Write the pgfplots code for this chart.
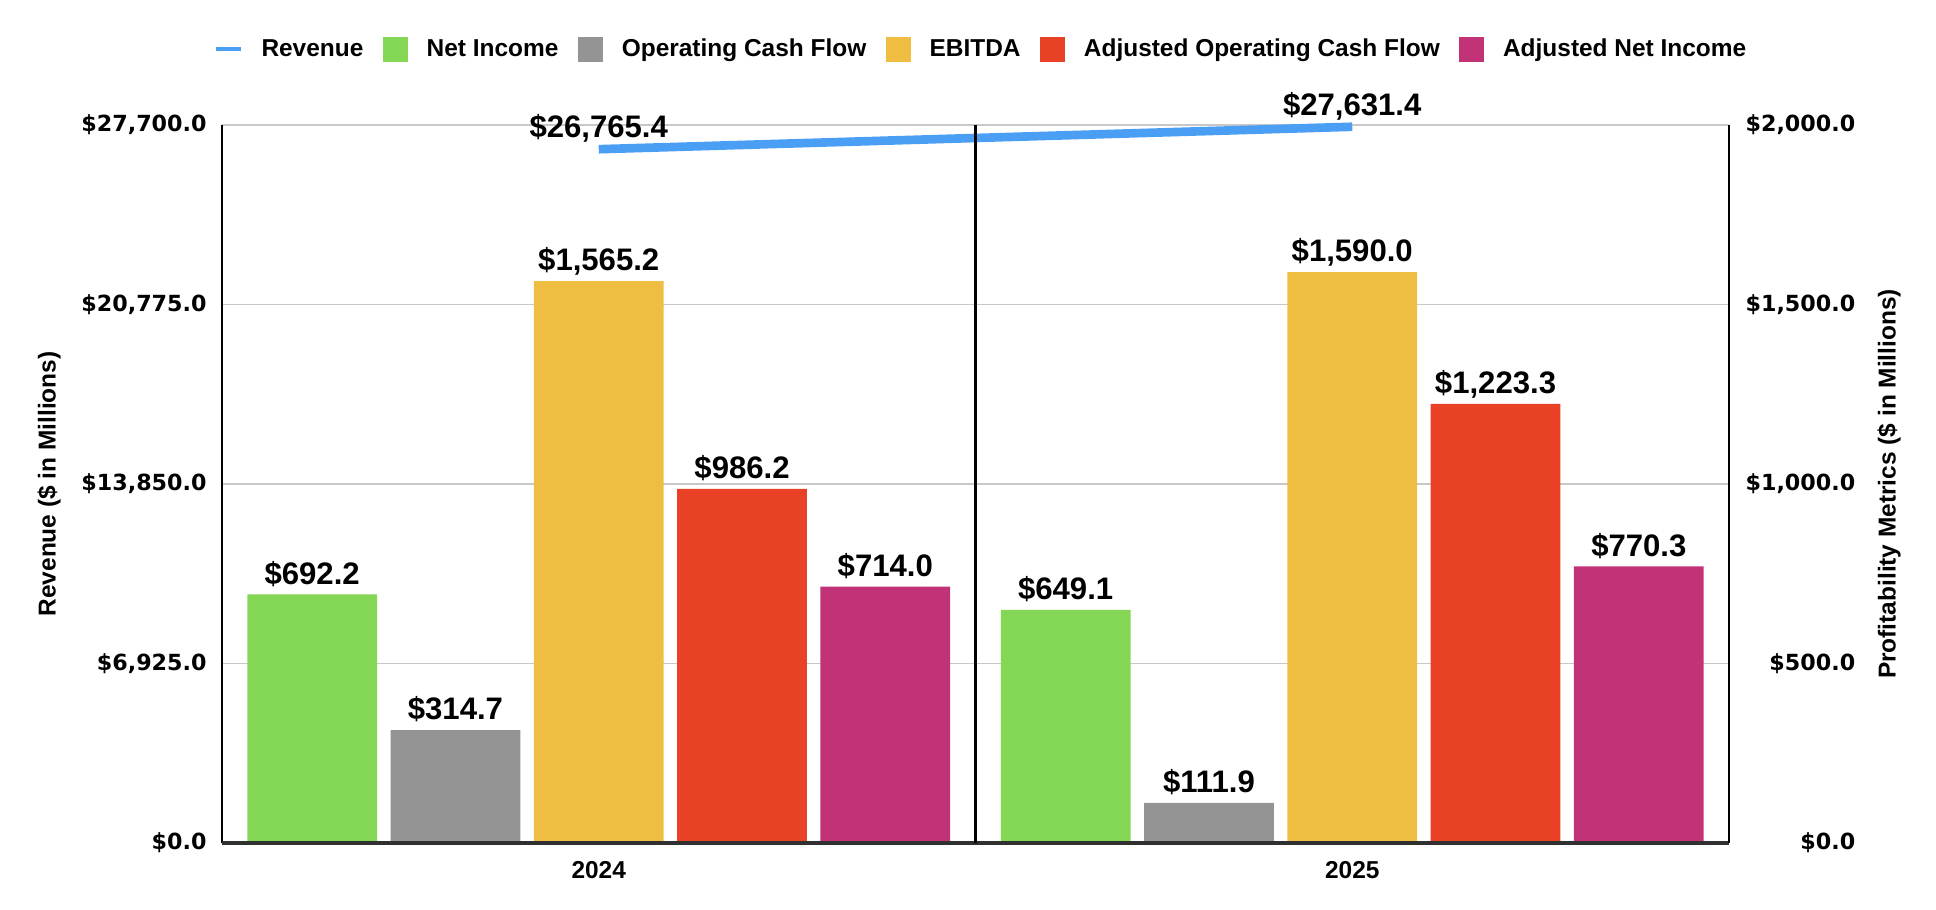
\documentclass[border=0pt]{standalone}
\usepackage{pgfplots}
\usepackage{pgfplotstable}
\pgfplotsset{compat=1.18}
\usepackage{fontspec}
\setmainfont{Liberation Sans}
\newfontfamily\tickfont{DejaVu Sans}

\definecolor{revblue}{HTML}{4A9FF5}
\definecolor{nigreen}{HTML}{84D655}
\definecolor{ocfgray}{HTML}{949494}
\definecolor{ebitdayellow}{HTML}{EFBD42}
\definecolor{aocfred}{HTML}{E94125}
\definecolor{animagenta}{HTML}{C23277}
\definecolor{gridgray}{HTML}{C8C8C8}
\definecolor{axisdark}{HTML}{303030}

% profitability metrics ($ in millions), years at x = 0 and 1
\pgfplotstableread{
x ni ocf ebitda aocf ani
0 692.2 314.7 1565.2 986.2 714.0
1 649.1 111.9 1590.0 1223.3 770.3
}\metrics

% revenue ($ in millions)
\pgfplotstableread{
x rev
0 26765.4
1 27631.4
}\revenue

\tikzset{
  vallabel/.style={font=\bfseries\fontsize{14}{16}\selectfont, anchor=base, inner sep=0pt, text=black},
  ticklab/.style={font=\tickfont\bfseries\fontsize{10}{12}\selectfont, inner sep=0pt},
}

\pgfplotsset{
  common/.style={
    at={(99.9pt,30.15pt)}, anchor=south west,
    scale only axis, width=678.15pt, height=323.1pt,
    xmin=-0.5, xmax=1.5,
    major tick length=0pt,
    scaled y ticks=false,
    /pgf/number format/assume math mode=true,
    clip=false,
  },
  sqlegend/.style={legend image code/.code={\fill[##1] (0pt,-5.625pt) rectangle (11.25pt,5.625pt);}},
  linelegend/.style={legend image code/.code={\draw[##1] (0pt,0pt) -- (11.25pt,0pt);}},
  dollarlabel/.style={nodes near coords={\$\pgfmathprintnumber[fixed,fixed zerofill,precision=1,1000 sep={,}]{\pgfplotspointmeta}}},
}

\begin{document}
\begin{tikzpicture}
\path[use as bounding box] (0,0) rectangle (871.2pt,409.5pt);

% left axis: revenue line and the horizontal grid
\begin{axis}[common,
  ymin=0, ymax=27700,
  axis x line=none, axis y line*=left,
  y axis line style={black, line width=1.3pt},
  ytick={0,6925,13850,20775,27700},
  yticklabels={{\$0.0},{\$6,925.0},{\$13,850.0},{\$20,775.0},{\$27,700.0}},
  yticklabel style={ticklab, anchor=east, xshift=-6.75pt},
  ymajorgrids, major grid style={gridgray, line width=0.6pt},
  every axis y label/.style={at={(axis description cs:-0.1148,0.5)}, anchor=center, rotate=90, font=\bfseries\fontsize{11}{13}\selectfont},
  ylabel={Revenue (\$ in Millions)},
]
\addplot[revblue, line width=3.9pt, dollarlabel, nodes near coords style={vallabel, yshift=5.2pt}]
  table[x=x, y=rev]{\revenue};
\end{axis}

% right axis: profitability bars
\begin{axis}[common,
  ymin=0, ymax=2000,
  axis x line*=bottom, axis y line*=right,
  axis on top,
  x axis line style={axisdark, line width=1.4pt},
  y axis line style={black, line width=1.3pt},
  xtick={0,1}, xticklabels={2024,2025},
  xticklabel style={font=\bfseries\fontsize{11}{13}\selectfont, anchor=north, inner sep=0pt, yshift=-8pt},
  extra x ticks={0.5}, extra x tick labels={},
  extra x tick style={grid=major, major grid style={black, line width=1.2pt}},
  ytick={0,500,1000,1500,2000},
  yticklabels={{\$0.0},{\$500.0},{\$1,000.0},{\$1,500.0},{\$2,000.0}},
  yticklabel style={ticklab, anchor=east, xshift=57pt},
  every axis y label/.style={at={(axis description cs:1.1062,0.5)}, anchor=center, rotate=90, font=\bfseries\fontsize{11}{13}\selectfont},
  ylabel={Profitability Metrics (\$ in Millions)},
  ybar, bar width=0.17213,
  dollarlabel,
  nodes near coords style={vallabel, yshift=4.7pt},
  legend columns=6,
  legend style={at={(0.503,1.1053)}, anchor=center, draw=none, fill=none,
    font=\bfseries\fontsize{11}{13}\selectfont,
    nodes={inner sep=0pt},
    /tikz/every odd column/.append style={column sep=8.4pt},
    /tikz/every even column/.append style={column sep=8.85pt}},
]
\addlegendimage{revblue, line width=1.8pt, linelegend}
\addlegendentry{Revenue}
\addplot[fill=nigreen, draw=none, bar shift=-0.38032, sqlegend] table[x=x, y=ni]{\metrics};
\addlegendentry{Net Income}
\addplot[fill=ocfgray, draw=none, bar shift=-0.19016, sqlegend] table[x=x, y=ocf]{\metrics};
\addlegendentry{Operating Cash Flow}
\addplot[fill=ebitdayellow, draw=none, bar shift=0, sqlegend] table[x=x, y=ebitda]{\metrics};
\addlegendentry{EBITDA}
\addplot[fill=aocfred, draw=none, bar shift=0.19016, sqlegend] table[x=x, y=aocf]{\metrics};
\addlegendentry{Adjusted Operating Cash Flow}
\addplot[fill=animagenta, draw=none, bar shift=0.38032, sqlegend] table[x=x, y=ani]{\metrics};
\addlegendentry{Adjusted Net Income}
\end{axis}
\end{tikzpicture}
\end{document}
